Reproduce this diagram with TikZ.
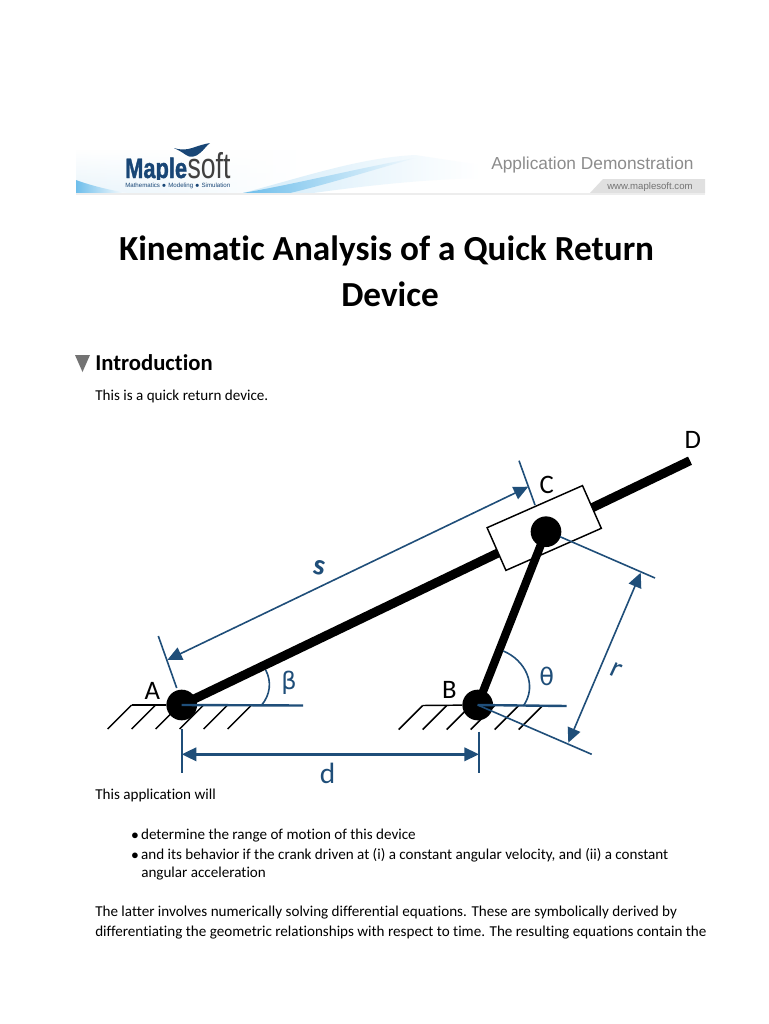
\documentclass[tikz,border=0pt]{standalone}
\usepackage{fontspec}
\setmainfont[Ligatures=NoCommon]{Carlito}
\newfontfamily\logofont{Liberation Sans}
\newfontfamily\symfont{DejaVu Sans}
\usetikzlibrary{arrows.meta,fadings}
\definecolor{dimblue}{RGB}{31,78,121}
\definecolor{logoblue}{RGB}{24,70,118}
\definecolor{swoosh}{RGB}{110,190,235}
\definecolor{palesky}{RGB}{232,244,251}
\tikzset{
  pin/.style={circle,fill=black,inner sep=0pt,minimum size=23pt},
  bar/.style={line width=6.8pt,black},
  dim/.style={dimblue,line width=1.2pt},
  dimarrow/.style={dim,{Triangle[length=11pt,width=10pt]}-{Triangle[length=11pt,width=10pt]}},
  hatch/.style={black,line width=1.1pt},
  letter/.style={font=\fontsize{20}{20}\selectfont,inner sep=0pt},
  dimletter/.style={letter,dimblue},
  body/.style={font=\fontsize{11.33}{12}\selectfont,anchor=base west,inner sep=0pt,black}
}
\begin{document}
\begin{tikzpicture}[x=0.75pt,y=-0.75pt]
\useasboundingbox (0,0) rectangle (768,1024);
\fill[white] (0,0) rectangle (768,1024);
% banner
\shade[left color=palesky,right color=white,path fading=north] (76,150) rectangle (300,194);
\shade[left color=swoosh,right color=white] (76,180) .. controls (92,186) and (110,190) .. (127,193) -- (76,193) -- cycle;
\shade[left color=swoosh!30,right color=white] (243,193) .. controls (310,175) and (360,158) .. (415,155) -- (480,165) -- (480,178) .. controls (410,180) and (350,188) .. (313,193) -- cycle;
\shade[left color=swoosh,right color=swoosh!10] (243,193) .. controls (300,183) and (350,170) .. (415,158) .. controls (360,174) and (320,186) .. (290,193) -- cycle;
\fill[black!12] (590,193) -- (603,179) -- (705,179) -- (705,193) -- cycle;
\fill[black!7] (76,193) rectangle (705,194.5);
\fill[logoblue] (174,148) .. controls (180,150) and (186,150) .. (192,148) .. controls (198,146) and (204,144) .. (210,143) .. controls (206,146) and (204,150) .. (200,153) .. controls (196,157) and (190,158) .. (186,155) .. controls (182,152) and (178,150) .. (174,148) -- cycle;
\begin{scope}
\clip (120,150) rectangle (240,179.5);
\node[anchor=base west,inner sep=0pt,logoblue,xscale=.78] (logoa) at (125,178) {\logofont\bfseries\addfontfeature{FakeBold=1.5}\fontsize{21}{21}\selectfont Maple};
\node[anchor=base west,inner sep=0pt,black!75,xscale=.74] (logob) at (logoa.base east) {\logofont\fontsize{27}{27}\selectfont soft};
\end{scope}
\node[anchor=base west,inner sep=0pt,logoblue] (tagline) at (125,187.5) {\logofont\fontsize{4.6}{5}\selectfont Mathematics $\bullet$ Modeling $\bullet$ Simulation};
\node[anchor=base west,inner sep=0pt,black!45] (appdemo) at (491,169) {\logofont\fontsize{13}{13}\selectfont Application Demonstration};
\node[anchor=base west,inner sep=0pt,black!55] (website) at (607,189) {\logofont\fontsize{7.2}{7}\selectfont www.maplesoft.com};
% heading
\node[anchor=base,inner sep=0pt,font=\bfseries\fontsize{26.4}{27}\selectfont] (title1) at (386.5,260) {Kinematic Analysis of a Quick Return};
\node[anchor=base,inner sep=0pt,font=\bfseries\fontsize{26.4}{27}\selectfont] (title2) at (390,306) {Device};
\fill[black!55] (75,355) -- (90,355) -- (82.5,372) -- cycle;
\node[anchor=base west,inner sep=0pt,font=\bfseries\fontsize{17}{18}\selectfont] (intro) at (95,370) {Introduction};
\node[body] (line1) at (95,400) {This is a quick return device.};
% mechanism
\coordinate (Dend) at (690,460.7);
\coordinate (groundA) at (131.7,705);
\coordinate (groundB) at (422.7,705.5);
\foreach \x in {131.7,155.7,...,252}
  \draw[hatch] (\x,705) -- +(-24,24);
\foreach \x in {422.7,446.7,...,544}
  \draw[hatch] (\x,705.5) -- +(-24,24);
\node[pin] (A) at (181.7,705) {};
\node[pin] (B) at (477.7,705) {};
\draw[hatch] (groundA) -- (A);
\draw[hatch] (groundB) -- (B);
\draw[bar] (A.center) -- (Dend);
\node[draw,fill=white,line width=1.1pt,rotate=23.8,inner sep=0pt,minimum width=78.2pt,minimum height=35pt] (slider) at (544.2,528) {};
\node[pin] (C) at (546,531.7) {};
\draw[line width=6.2pt] (B.center) -- (C.center);
% dimensions
\coordinate (Aa) at (158.3,636);
\coordinate (Ab) at (176.7,688);
\coordinate (Ca) at (519,460.7);
\coordinate (Cb) at (535,505);
\coordinate (sa) at (167.3,660);
\coordinate (sb) at (528.3,486.7);
\coordinate (Ba) at (591.7,754.3);
\coordinate (Cc) at (560,536.7);
\coordinate (Cd) at (655,578);
\coordinate (ra) at (640.7,572.7);
\coordinate (rb) at (568.3,742.7);
\coordinate (da) at (181.7,754.3);
\coordinate (db) at (479,754.3);
\coordinate (Ae) at (303,705.5);
\coordinate (Be) at (566.7,706);
\draw[dim] (Aa) -- (Ab);
\draw[dim] (Ca) -- (Cb);
\draw[dimarrow] (sa) -- (sb);
\draw[dim] (Cc) -- (Cd);
\draw[dim] (B.center) -- (Ba);
\draw[dimarrow] (ra) -- (rb);
\draw[dim,line width=1.8pt] (A.center) -- (Ae);
\draw[dim,line width=1.8pt] (B.center) -- (Be);
\draw[dimarrow,line width=2pt] (da) -- (db);
\draw[dim] (181.7,729.3) -- (181.7,772.7);
\draw[dim] (479,731.7) -- (479,772.7);
\draw[dim] (261.7,705) .. controls (270,695) and (272,682) .. (265.7,670);
\draw[dim] (503.3,651) .. controls (525,660) and (538,685) .. (523.3,706);
% labels
\node[letter] (labA) at (152.3,690.7) {A};
\node[letter] (labB) at (449.3,690) {B};
\node[letter] (labC) at (546.7,485) {C};
\node[letter] (labD) at (692.7,440) {D};
\node[dimletter] (labbeta) at (289,683) {\symfont\fontsize{18}{18}\selectfont β};
\node[dimletter] (labtheta) at (546.7,676) {\symfont\fontsize{18}{18}\selectfont θ};
\node[dimletter,font=\fontsize{22}{22}\selectfont] (labd) at (327.7,773) {d};
\node[dimletter,font=\fontsize{22}{22}\selectfont\bfseries,rotate=-12] (labs) at (319,568) {s};
\node[dimletter,font=\fontsize{22}{22}\selectfont,rotate=-25] (labr) at (616,670) {r};
% text below
\node[body] (line2) at (95,799) {This application will};
\node[body] (bul1) at (131,839) {$\bullet$\,determine the range of motion of this device};
\node[body] (bul2) at (131,859) {$\bullet$\,and its behavior if the crank driven at (i) a constant angular velocity, and (ii) a constant};
\node[body] (bul3) at (141,877) {angular acceleration};
\node[body] (line3) at (95,916) {The latter involves numerically solving differential equations. These are symbolically derived by};
\node[body] (line4) at (95,936) {differentiating the geometric relationships with respect to time. The resulting equations contain the};
\end{tikzpicture}
\end{document}
